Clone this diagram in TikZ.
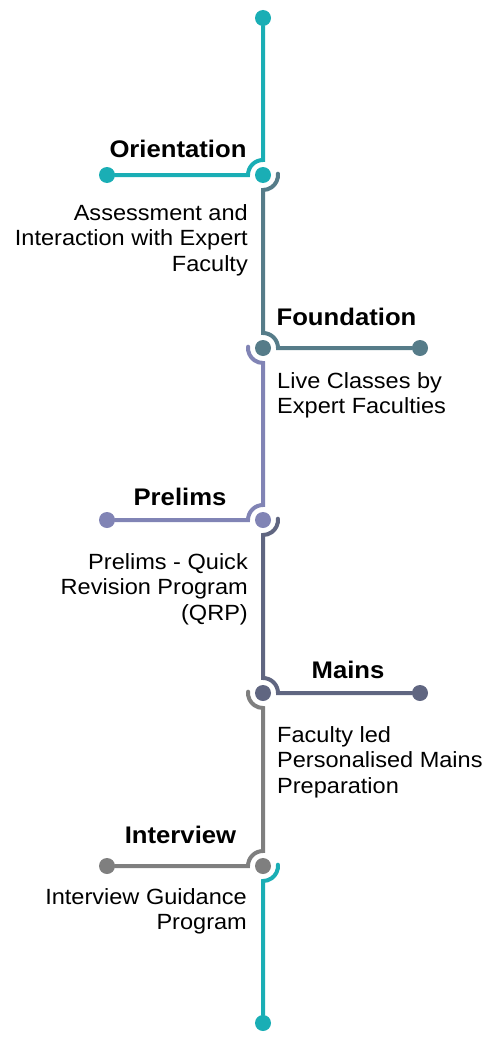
\documentclass[tikz,border=0pt]{standalone}
\usepackage{fontspec}
\setmainfont[FakeStretch=1.07]{Liberation Sans}
\definecolor{tealc}{HTML}{1AAEB5}
\definecolor{slatec}{HTML}{567C89}
\definecolor{lilacc}{HTML}{8184B5}
\definecolor{inkc}{HTML}{606681}
\definecolor{greyc}{HTML}{7F7F7F}

\begin{document}
\begin{tikzpicture} [x=1pt, y=1pt, dot/.style={circle, inner sep=0, minimum size=16}, track/.style={line width=4, line cap=round}, title/.style={font=\fontsize{24}{28}\selectfont\bfseries, anchor=base}, note/.style={font=\fontsize{22}{25.5}\selectfont, inner sep=0}]
  \useasboundingbox (0,0) rectangle (498,-1049);
  \draw (263,-18)   node[dot, fill=tealc](top) {};
  \draw (263,-175)  node[dot, fill=tealc](ori) {};
  \draw (107,-175)  node[dot, fill=tealc](oriend) {};
  \draw (263,-348)  node[dot, fill=slatec](fnd) {};
  \draw (420,-348)  node[dot, fill=slatec](fndend) {};
  \draw (263,-520)  node[dot, fill=lilacc](pre) {};
  \draw (107,-520)  node[dot, fill=lilacc](preend) {};
  \draw (263,-693)  node[dot, fill=inkc](mns) {};
  \draw (420,-693)  node[dot, fill=inkc](mnsend) {};
  \draw (263,-866)  node[dot, fill=greyc](itv) {};
  \draw (107,-866)  node[dot, fill=greyc](itvend) {};
  \draw (263,-1023) node[dot, fill=tealc](bottom) {};

  \draw[track, tealc] (top) -- ([yshift=15]ori.center) arc (90:180:15) -- (oriend);
  \draw[track, slatec] ([shift={(5:15)}]ori.center) arc (5:-90:15) -- ([yshift=15]fnd.center) arc (90:0:15) -- (fndend);
  \draw[track, lilacc] ([shift={(175:15)}]fnd.center) arc (175:270:15) -- ([yshift=15]pre.center) arc (90:180:15) -- (preend);
  \draw[track, inkc] ([shift={(5:15)}]pre.center) arc (5:-90:15) -- ([yshift=15]mns.center) arc (90:0:15) -- (mnsend);
  \draw[track, greyc] ([shift={(175:15)}]mns.center) arc (175:270:15) -- ([yshift=15]itv.center) arc (90:180:15) -- (itvend);
  \draw[track, tealc] ([shift={(5:15)}]itv.center) arc (5:-90:15) -- (bottom);

  \draw (178,-157)   node[title](oritxt) {Orientation};
  \draw (346.5,-325) node[title](fndtxt) {Foundation};
  \draw (180,-505)   node[title](pretxt) {Prelims};
  \draw (348,-678)   node[title](mnstxt) {Mains};
  \draw (180.5,-843) node[title](itvtxt) {Interview};

  \draw (248,-204) node[note, anchor=north east, align=right](orinote) {Assessment and\\Interaction with Expert\\Faculty};
  \draw (277,-372) node[note, anchor=north west, align=left](fndnote) {Live Classes by\\Expert Faculties};
  \draw (248,-553) node[note, anchor=north east, align=right](prenote) {Prelims - Quick\\Revision Program\\(QRP)};
  \draw (277,-726) node[note, anchor=north west, align=left](mnsnote) {Faculty led\\Personalised Mains\\Preparation};
  \draw (247,-888) node[note, anchor=north east, align=right](itvnote) {Interview Guidance\\Program};
\end{tikzpicture}
\end{document}
